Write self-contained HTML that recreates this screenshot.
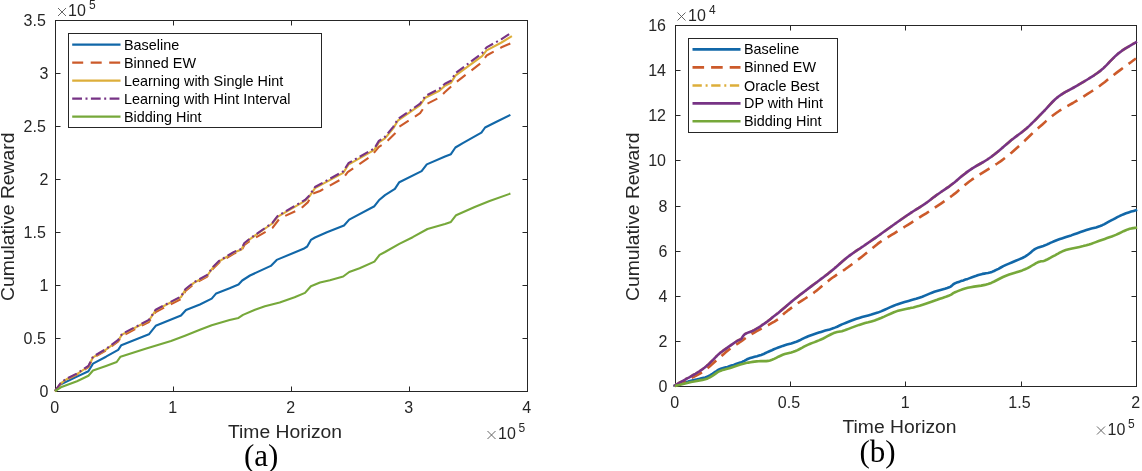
<!DOCTYPE html><html><head><meta charset="utf-8"><style>html,body{margin:0;padding:0;background:#fff;overflow:hidden}svg{display:block;will-change:transform}text{font-family:"Liberation Sans",sans-serif}</style></head><body>
<svg width="1142" height="471" viewBox="0 0 1142 471">
<rect width="1142" height="471" fill="#fff"/>
<rect x="55.5" y="20.5" width="472" height="371" fill="none" stroke="#262626" stroke-width="1"/>
<line x1="173.5" y1="391.5" x2="173.5" y2="386.5" stroke="#262626" stroke-width="1"/>
<line x1="173.5" y1="20.5" x2="173.5" y2="25.5" stroke="#262626" stroke-width="1"/>
<line x1="291.5" y1="391.5" x2="291.5" y2="386.5" stroke="#262626" stroke-width="1"/>
<line x1="291.5" y1="20.5" x2="291.5" y2="25.5" stroke="#262626" stroke-width="1"/>
<line x1="409.5" y1="391.5" x2="409.5" y2="386.5" stroke="#262626" stroke-width="1"/>
<line x1="409.5" y1="20.5" x2="409.5" y2="25.5" stroke="#262626" stroke-width="1"/>
<line x1="55.5" y1="338.5" x2="60.5" y2="338.5" stroke="#262626" stroke-width="1"/>
<line x1="527.5" y1="338.5" x2="522.5" y2="338.5" stroke="#262626" stroke-width="1"/>
<line x1="55.5" y1="285.5" x2="60.5" y2="285.5" stroke="#262626" stroke-width="1"/>
<line x1="527.5" y1="285.5" x2="522.5" y2="285.5" stroke="#262626" stroke-width="1"/>
<line x1="55.5" y1="232.5" x2="60.5" y2="232.5" stroke="#262626" stroke-width="1"/>
<line x1="527.5" y1="232.5" x2="522.5" y2="232.5" stroke="#262626" stroke-width="1"/>
<line x1="55.5" y1="179.5" x2="60.5" y2="179.5" stroke="#262626" stroke-width="1"/>
<line x1="527.5" y1="179.5" x2="522.5" y2="179.5" stroke="#262626" stroke-width="1"/>
<line x1="55.5" y1="126.5" x2="60.5" y2="126.5" stroke="#262626" stroke-width="1"/>
<line x1="527.5" y1="126.5" x2="522.5" y2="126.5" stroke="#262626" stroke-width="1"/>
<line x1="55.5" y1="73.5" x2="60.5" y2="73.5" stroke="#262626" stroke-width="1"/>
<line x1="527.5" y1="73.5" x2="522.5" y2="73.5" stroke="#262626" stroke-width="1"/>
<g fill="none" stroke-width="2.1" stroke-linejoin="round">
<path d="M55.0,391.0 L60.9,384.2 L77.0,376.6 L88.4,371.2 L93.0,363.6 L106.0,356.7 L118.2,349.8 L121.3,345.2 L148.9,334.3 L155.7,325.8 L181.0,315.5 L186.0,310.0 L199.9,304.5 L211.7,298.6 L216.2,293.4 L229.6,288.2 L238.5,284.5 L242.2,280.5 L250.0,275.5 L270.8,265.9 L276.7,259.9 L303.5,248.8 L307.2,246.5 L310.9,239.9 L315.0,237.5 L326.9,232.2 L344.0,225.5 L349.2,219.6 L374.4,206.2 L378.9,200.3 L385.0,195.1 L394.9,188.9 L399.3,182.2 L421.6,171.1 L426.8,164.4 L445.0,156.5 L450.9,154.2 L455.4,147.5 L462.8,143.1 L481.4,132.7 L485.1,127.5 L495.5,122.3 L510.4,114.9" stroke="#1167A8"/>
<path d="M55.0,391.0 L60.9,383.5 L66.2,379.8 L77.0,374.5 L88.4,367.0 L93.0,358.0 L106.0,350.5 L118.2,341.5 L122.0,336.0 L148.9,322.0 L155.7,312.0 L181.0,299.0 L185.5,291.0 L193.9,284.0 L207.3,276.5 L213.2,268.5 L219.2,262.5 L234.0,253.5 L241.5,250.5 L244.4,245.0 L250.0,240.7 L272.3,228.1 L279.7,218.4 L300.5,208.8 L308.0,202.1 L312.4,193.9 L320.0,191.0 L343.2,178.1 L347.7,172.1 L371.5,155.8 L378.9,146.9 L385.0,143.2 L395.5,133.0 L399.0,127.0 L420.1,113.2 L426.1,104.3 L439.4,97.6 L445.0,92.0 L453.9,84.0 L482.1,62.1 L486.6,55.5 L501.5,47.3 L511.9,42.8" stroke="#CC5A2A" stroke-dasharray="11 7.5"/>
<path d="M55.0,391.6 L60.9,383.3 L66.2,379.5 L77.0,374.1 L88.4,366.5 L93.0,357.3 L106.0,349.6 L118.2,340.5 L122.0,334.6 L148.9,320.5 L155.7,310.3 L181.0,297.1 L185.5,289.6 L193.9,282.9 L207.3,275.5 L213.2,267.3 L219.2,261.4 L234.0,252.5 L241.5,249.5 L244.4,243.6 L250.0,239.1 L272.3,223.5 L277.5,216.8 L305.0,200.8 L309.4,196.3 L315.0,188.1 L343.2,172.9 L348.4,164.7 L374.4,149.9 L378.9,142.4 L385.0,138.3 L393.4,128.1 L397.8,120.7 L420.1,105.1 L425.3,97.7 L439.4,90.7 L445.0,85.8 L450.9,82.9 L455.4,75.6 L482.1,56.2 L486.6,50.4 L501.5,42.5 L511.9,36.1" stroke="#DDAE3A"/>
<path d="M55.0,391.0 L60.9,382.7 L66.2,378.9 L77.0,373.5 L88.4,365.9 L93.0,356.7 L106.0,349.0 L118.2,339.9 L122.0,334.0 L148.9,319.9 L155.7,309.7 L181.0,296.5 L185.5,289.0 L193.9,282.3 L207.3,274.9 L213.2,266.7 L219.2,260.8 L234.0,251.9 L241.5,248.9 L244.4,243.0 L250.0,238.5 L272.3,222.9 L277.5,216.2 L305.0,199.9 L309.4,195.4 L315.0,187.0 L343.2,171.4 L348.4,163.2 L374.4,148.4 L378.9,140.9 L385.0,136.8 L393.4,126.6 L397.8,119.2 L420.1,103.6 L425.3,96.1 L439.4,88.7 L445.0,83.7 L450.9,80.7 L455.4,73.3 L482.1,53.2 L486.6,47.3 L501.5,39.1 L511.9,32.4" stroke="#773385" stroke-dasharray="9.8 3.5 2 3.4"/>
<path d="M55.0,391.0 L60.9,387.3 L77.0,381.2 L88.4,375.8 L93.0,370.5 L106.0,365.9 L116.7,362.0 L120.5,356.7 L145.5,348.8 L171.0,341.0 L185.0,335.7 L199.9,329.8 L211.7,325.3 L229.6,320.1 L238.5,317.9 L243.0,314.9 L255.0,309.7 L264.9,306.3 L279.7,302.5 L294.6,297.3 L305.0,292.9 L310.9,286.2 L320.0,282.5 L329.9,280.2 L343.2,276.5 L349.2,272.0 L359.6,268.3 L374.4,261.6 L379.6,254.9 L385.0,252.0 L399.3,243.9 L412.7,237.2 L427.5,229.0 L445.0,224.1 L450.9,221.9 L456.1,215.2 L474.7,207.0 L489.6,201.1 L510.4,193.6" stroke="#76A83A"/>
</g>
<text transform="translate(54.7,413) scale(1.0,1)" font-size="16" fill="#262626" text-anchor="middle">0</text>
<text transform="translate(172.7,413) scale(1.0,1)" font-size="16" fill="#262626" text-anchor="middle">1</text>
<text transform="translate(290.7,413) scale(1.0,1)" font-size="16" fill="#262626" text-anchor="middle">2</text>
<text transform="translate(408.7,413) scale(1.0,1)" font-size="16" fill="#262626" text-anchor="middle">3</text>
<text transform="translate(526.7,413) scale(1.0,1)" font-size="16" fill="#262626" text-anchor="middle">4</text>
<text transform="translate(48.3,397.0) scale(1.0,1)" font-size="16" fill="#262626" text-anchor="end">0</text>
<text transform="translate(45.8,344.0) scale(1.0,1)" font-size="16" fill="#262626" text-anchor="end">0.5</text>
<text transform="translate(48.3,291.0) scale(1.0,1)" font-size="16" fill="#262626" text-anchor="end">1</text>
<text transform="translate(45.8,238.0) scale(1.0,1)" font-size="16" fill="#262626" text-anchor="end">1.5</text>
<text transform="translate(48.3,185.0) scale(1.0,1)" font-size="16" fill="#262626" text-anchor="end">2</text>
<text transform="translate(45.8,132.0) scale(1.0,1)" font-size="16" fill="#262626" text-anchor="end">2.5</text>
<text transform="translate(48.3,79.0) scale(1.0,1)" font-size="16" fill="#262626" text-anchor="end">3</text>
<text transform="translate(45.8,26.0) scale(1.0,1)" font-size="16" fill="#262626" text-anchor="end">3.5</text>
<path d="M58,8 L66,16 M66,8 L58,16" stroke="#555" stroke-width="0.9" fill="none"/>
<text transform="translate(68,16) scale(1.0,1)" font-size="16" fill="#262626">10</text>
<text transform="translate(89,9) scale(1.0,1)" font-size="12" fill="#262626">5</text>
<path d="M487.5,431 L495.5,439 M495.5,431 L487.5,439" stroke="#555" stroke-width="0.9" fill="none"/>
<text transform="translate(498,439) scale(1.0,1)" font-size="16" fill="#262626">10</text>
<text transform="translate(518.5,432) scale(1.0,1)" font-size="12" fill="#262626">5</text>
<text transform="translate(228,438) scale(1.027,1)" font-size="18.8" fill="#262626">Time Horizon</text>
<text transform="translate(13.7,301) rotate(-90) scale(1.027,1)" font-size="18.8" fill="#262626">Cumulative Reward</text>
<text x="244" y="466" font-family="Liberation Serif" style="font-family:'Liberation Serif',serif" font-size="31" fill="#000">(a)</text>
<rect x="68.5" y="33.5" width="253" height="94" fill="#fff" stroke="#262626" stroke-width="1"/>
<line x1="72.2" y1="44.6" x2="120.5" y2="44.6" stroke="#1167A8" stroke-width="2.1" />
<text x="124" y="49.6" font-size="14.4" fill="#000">Baseline</text>
<line x1="72.2" y1="62.6" x2="120.5" y2="62.6" stroke="#CC5A2A" stroke-width="2.1" stroke-dasharray="11 7.5"/>
<text x="124" y="67.6" font-size="14.4" fill="#000">Binned EW</text>
<line x1="72.2" y1="80.6" x2="120.5" y2="80.6" stroke="#DDAE3A" stroke-width="2.1" />
<text x="124" y="85.6" font-size="14.4" fill="#000">Learning with Single Hint</text>
<line x1="72.2" y1="98.6" x2="120.5" y2="98.6" stroke="#773385" stroke-width="2.1" stroke-dasharray="9.8 3.5 2 3.4"/>
<text x="124" y="103.6" font-size="14.4" fill="#000">Learning with Hint Interval</text>
<line x1="72.2" y1="116.6" x2="120.5" y2="116.6" stroke="#76A83A" stroke-width="2.1" />
<text x="124" y="121.6" font-size="14.4" fill="#000">Bidding Hint</text>
<rect x="675.5" y="25.5" width="461" height="361" fill="none" stroke="#262626" stroke-width="1"/>
<line x1="790.5" y1="386.5" x2="790.5" y2="381.5" stroke="#262626" stroke-width="1"/>
<line x1="790.5" y1="25.5" x2="790.5" y2="30.5" stroke="#262626" stroke-width="1"/>
<line x1="905.5" y1="386.5" x2="905.5" y2="381.5" stroke="#262626" stroke-width="1"/>
<line x1="905.5" y1="25.5" x2="905.5" y2="30.5" stroke="#262626" stroke-width="1"/>
<line x1="1021.5" y1="386.5" x2="1021.5" y2="381.5" stroke="#262626" stroke-width="1"/>
<line x1="1021.5" y1="25.5" x2="1021.5" y2="30.5" stroke="#262626" stroke-width="1"/>
<line x1="675.5" y1="341.5" x2="680.5" y2="341.5" stroke="#262626" stroke-width="1"/>
<line x1="1136.5" y1="341.5" x2="1131.5" y2="341.5" stroke="#262626" stroke-width="1"/>
<line x1="675.5" y1="296.5" x2="680.5" y2="296.5" stroke="#262626" stroke-width="1"/>
<line x1="1136.5" y1="296.5" x2="1131.5" y2="296.5" stroke="#262626" stroke-width="1"/>
<line x1="675.5" y1="251.5" x2="680.5" y2="251.5" stroke="#262626" stroke-width="1"/>
<line x1="1136.5" y1="251.5" x2="1131.5" y2="251.5" stroke="#262626" stroke-width="1"/>
<line x1="675.5" y1="206.5" x2="680.5" y2="206.5" stroke="#262626" stroke-width="1"/>
<line x1="1136.5" y1="206.5" x2="1131.5" y2="206.5" stroke="#262626" stroke-width="1"/>
<line x1="675.5" y1="160.5" x2="680.5" y2="160.5" stroke="#262626" stroke-width="1"/>
<line x1="1136.5" y1="160.5" x2="1131.5" y2="160.5" stroke="#262626" stroke-width="1"/>
<line x1="675.5" y1="115.5" x2="680.5" y2="115.5" stroke="#262626" stroke-width="1"/>
<line x1="1136.5" y1="115.5" x2="1131.5" y2="115.5" stroke="#262626" stroke-width="1"/>
<line x1="675.5" y1="70.5" x2="680.5" y2="70.5" stroke="#262626" stroke-width="1"/>
<line x1="1136.5" y1="70.5" x2="1131.5" y2="70.5" stroke="#262626" stroke-width="1"/>
<g fill="none" stroke-width="2.6" stroke-linejoin="round">
<path d="M675.0,386.0 L674.9,385.9 L674.7,385.8 L674.4,385.7 L674.4,385.5 L674.8,385.2 L675.8,384.9 L677.5,384.3 L679.8,383.7 L682.5,383.0 L685.4,382.2 L688.3,381.5 L691.1,380.7 L693.9,380.1 L696.7,379.4 L699.6,378.8 L702.5,378.1 L705.2,377.4 L707.7,376.5 L709.9,375.4 L711.9,374.2 L713.8,372.9 L715.6,371.7 L717.3,370.5 L719.1,369.5 L720.8,368.8 L722.5,368.2 L724.1,367.7 L725.8,367.3 L727.5,366.9 L729.3,366.3 L731.4,365.6 L733.6,364.9 L735.9,364.1 L738.2,363.3 L740.3,362.6 L742.1,361.9 L743.5,361.3 L744.4,360.8 L745.2,360.3 L746.1,359.8 L747.0,359.3 L748.4,358.7 L750.2,358.1 L752.3,357.5 L754.6,356.8 L757.0,356.2 L759.2,355.5 L761.2,354.9 L762.9,354.3 L764.3,353.7 L765.6,353.0 L766.9,352.4 L768.4,351.7 L770.0,351.0 L771.9,350.2 L773.9,349.3 L776.1,348.4 L778.3,347.5 L780.5,346.7 L782.7,345.9 L784.8,345.2 L787.0,344.6 L789.1,344.0 L791.2,343.5 L793.4,342.8 L795.5,342.1 L797.6,341.2 L799.7,340.3 L801.9,339.2 L804.0,338.2 L806.1,337.2 L808.2,336.3 L810.3,335.5 L812.5,334.7 L814.6,334.0 L816.7,333.3 L818.9,332.6 L821.0,331.9 L823.2,331.2 L825.3,330.6 L827.5,330.0 L829.7,329.4 L831.7,328.8 L833.7,328.1 L835.5,327.4 L837.1,326.7 L838.6,326.0 L840.2,325.2 L841.9,324.4 L843.9,323.6 L846.1,322.7 L848.5,321.8 L851.0,320.8 L853.7,319.8 L856.4,318.8 L859.2,317.9 L862.1,317.0 L865.1,316.2 L868.3,315.4 L871.4,314.6 L874.6,313.6 L877.8,312.6 L880.9,311.4 L884.1,310.0 L887.2,308.6 L890.4,307.1 L893.7,305.7 L897.1,304.4 L900.7,303.2 L904.6,302.0 L908.5,300.9 L912.4,299.8 L916.1,298.8 L919.4,297.7 L922.3,296.7 L924.9,295.6 L927.3,294.6 L929.6,293.6 L931.9,292.7 L934.3,291.8 L936.9,291.0 L939.6,290.2 L942.3,289.4 L944.9,288.7 L947.2,288.0 L949.2,287.3 L950.6,286.6 L951.6,285.9 L952.2,285.3 L952.9,284.6 L953.7,284.0 L955.0,283.3 L956.7,282.6 L958.7,281.9 L960.9,281.1 L963.2,280.4 L965.5,279.6 L967.7,278.9 L969.8,278.1 L972.0,277.3 L974.2,276.5 L976.3,275.8 L978.4,275.0 L980.5,274.4 L982.4,273.9 L984.3,273.6 L986.1,273.3 L988.0,273.0 L989.9,272.6 L991.9,271.9 L994.0,271.0 L996.2,269.9 L998.5,268.8 L1000.8,267.5 L1003.3,266.2 L1006.0,264.9 L1009.0,263.6 L1012.3,262.2 L1015.7,260.8 L1019.1,259.4 L1022.3,258.0 L1025.0,256.6 L1027.2,255.2 L1029.1,253.8 L1030.7,252.5 L1032.2,251.1 L1033.7,249.9 L1035.3,248.9 L1036.9,248.1 L1038.5,247.4 L1040.1,246.9 L1041.7,246.4 L1043.3,245.9 L1045.0,245.3 L1046.7,244.6 L1048.5,243.8 L1050.3,242.9 L1052.2,242.1 L1054.1,241.3 L1056.0,240.5 L1057.9,239.8 L1059.9,239.1 L1061.8,238.5 L1063.9,237.8 L1066.1,237.1 L1068.5,236.3 L1071.2,235.4 L1074.2,234.3 L1077.4,233.2 L1080.5,232.1 L1083.6,231.0 L1086.4,230.1 L1089.0,229.3 L1091.4,228.6 L1093.7,228.0 L1096.0,227.4 L1098.1,226.7 L1100.2,226.0 L1102.2,225.2 L1104.0,224.3 L1105.8,223.3 L1107.5,222.4 L1109.3,221.4 L1111.2,220.4 L1113.2,219.4 L1115.2,218.3 L1117.3,217.2 L1119.4,216.2 L1121.5,215.1 L1123.7,214.2 L1126.0,213.3 L1128.6,212.4 L1131.2,211.6 L1133.7,210.9 L1135.7,210.3 L1137.2,209.8" stroke="#1167A8"/>
<path d="M675.0,386.0 L676.5,385.3 L678.5,384.3 L680.9,383.1 L683.5,381.8 L686.2,380.5 L688.6,379.3 L690.9,378.1 L693.3,377.0 L695.7,375.9 L698.1,374.7 L700.4,373.4 L702.6,372.1 L704.6,370.7 L706.5,369.2 L708.3,367.6 L710.1,366.0 L712.0,364.3 L714.0,362.5 L716.3,360.5 L718.8,358.4 L721.3,356.1 L723.8,353.9 L726.3,351.8 L728.5,350.0 L730.5,348.5 L732.2,347.3 L733.8,346.2 L735.5,345.1 L737.2,344.0 L739.0,342.8 L741.0,341.4 L743.1,339.9 L745.3,338.3 L747.5,336.8 L749.7,335.2 L752.0,333.8 L754.3,332.5 L756.7,331.2 L759.1,329.9 L761.4,328.7 L763.8,327.5 L766.0,326.3 L768.2,325.1 L770.3,323.9 L772.4,322.7 L774.4,321.6 L776.3,320.4 L778.0,319.3 L779.4,318.2 L780.5,317.2 L781.5,316.2 L782.5,315.1 L783.6,314.0 L785.0,312.8 L786.7,311.5 L788.4,310.1 L790.4,308.6 L792.4,307.1 L794.7,305.5 L797.0,303.8 L799.5,302.1 L802.3,300.3 L805.2,298.5 L808.1,296.6 L811.1,294.6 L814.0,292.6 L816.8,290.4 L819.7,288.1 L822.5,285.7 L825.3,283.3 L828.2,281.0 L831.0,278.8 L833.8,276.8 L836.6,274.9 L839.5,273.0 L842.3,271.2 L845.1,269.3 L847.9,267.3 L850.7,265.2 L853.6,263.0 L856.5,260.8 L859.4,258.6 L862.2,256.4 L864.9,254.3 L867.5,252.2 L870.1,250.0 L872.6,247.9 L875.1,245.9 L877.6,243.9 L880.0,242.1 L882.4,240.4 L884.9,238.9 L887.2,237.5 L889.6,236.1 L892.0,234.7 L894.3,233.3 L896.5,231.9 L898.6,230.6 L900.6,229.4 L902.8,228.0 L905.1,226.5 L907.9,224.8 L911.1,222.8 L914.6,220.6 L918.4,218.2 L922.3,215.7 L926.2,213.3 L930.0,210.8 L933.7,208.3 L937.5,205.8 L941.3,203.3 L945.0,200.8 L948.6,198.3 L952.0,195.8 L955.1,193.4 L958.0,190.9 L960.8,188.5 L963.5,186.1 L966.2,183.9 L969.0,181.7 L971.8,179.7 L974.7,177.8 L977.5,176.0 L980.3,174.2 L983.2,172.4 L986.0,170.6 L988.8,168.8 L991.6,167.1 L994.5,165.3 L997.3,163.5 L1000.1,161.6 L1002.9,159.6 L1005.7,157.4 L1008.6,155.1 L1011.5,152.7 L1014.3,150.2 L1017.1,147.7 L1019.9,145.2 L1022.6,142.7 L1025.2,140.3 L1027.8,137.8 L1030.4,135.3 L1033.1,132.7 L1036.0,130.1 L1039.1,127.3 L1042.4,124.4 L1045.8,121.4 L1049.3,118.4 L1052.8,115.6 L1056.2,113.0 L1059.5,110.7 L1062.9,108.7 L1066.2,106.8 L1069.5,104.9 L1072.9,103.0 L1076.4,100.9 L1080.0,98.7 L1083.8,96.3 L1087.6,93.9 L1091.4,91.5 L1095.1,89.1 L1098.6,86.7 L1101.8,84.3 L1104.9,82.0 L1107.8,79.6 L1110.7,77.3 L1113.7,74.9 L1116.7,72.6 L1120.1,70.1 L1123.7,67.4 L1127.4,64.7 L1130.9,62.2 L1133.8,60.0 L1135.9,58.5" stroke="#CC5A2A" stroke-dasharray="11.6 7"/>
<path d="M675.0,386.0 L675.0,385.9 L674.9,385.8 L674.8,385.7 L674.9,385.6 L675.2,385.3 L675.8,384.9 L676.8,384.3 L678.0,383.6 L679.5,382.7 L681.1,381.8 L682.9,380.8 L684.7,379.8 L686.6,378.7 L688.8,377.6 L691.0,376.3 L693.3,375.0 L695.5,373.8 L697.5,372.5 L699.4,371.3 L701.1,370.1 L702.8,369.0 L704.4,367.8 L706.0,366.5 L707.7,365.1 L709.4,363.5 L711.2,361.7 L713.0,359.9 L714.7,358.1 L716.4,356.4 L717.9,354.9 L719.2,353.7 L720.3,352.8 L721.4,352.0 L722.4,351.3 L723.6,350.4 L725.0,349.4 L726.8,348.1 L728.8,346.6 L731.0,345.1 L733.2,343.6 L735.1,342.3 L736.7,341.2 L737.9,340.5 L738.8,340.1 L739.5,339.8 L740.1,339.6 L740.7,339.4 L741.3,338.9 L741.9,338.2 L742.3,337.5 L742.7,336.7 L743.2,335.8 L743.9,335.0 L744.8,334.2 L746.0,333.5 L747.4,332.9 L749.0,332.3 L750.7,331.7 L752.4,331.0 L754.2,330.1 L756.0,329.0 L758.0,327.8 L760.0,326.6 L762.0,325.2 L764.0,323.9 L765.8,322.6 L767.4,321.5 L768.6,320.5 L769.9,319.6 L771.2,318.5 L772.9,317.1 L775.2,315.3 L778.2,312.9 L781.7,309.9 L785.6,306.7 L789.6,303.3 L793.5,300.1 L797.0,297.3 L800.1,294.8 L803.0,292.6 L805.8,290.5 L808.5,288.4 L811.2,286.4 L814.0,284.3 L816.8,282.2 L819.7,280.0 L822.5,277.9 L825.3,275.7 L828.2,273.6 L831.0,271.3 L833.8,268.9 L836.7,266.5 L839.5,264.0 L842.3,261.5 L845.2,259.1 L848.0,256.8 L850.9,254.6 L853.9,252.5 L856.9,250.4 L859.9,248.5 L862.6,246.7 L865.0,245.0 L867.0,243.6 L868.6,242.5 L870.1,241.5 L871.5,240.5 L873.1,239.4 L875.0,238.1 L877.3,236.5 L879.8,234.7 L882.5,232.8 L885.3,230.8 L888.1,228.8 L890.9,226.8 L893.7,224.8 L896.5,222.8 L899.3,220.8 L902.2,218.8 L905.1,216.8 L907.9,214.8 L910.8,212.9 L913.7,211.0 L916.7,209.1 L919.6,207.3 L922.4,205.5 L924.9,203.8 L927.2,202.2 L929.2,200.7 L931.1,199.3 L932.9,197.8 L934.9,196.4 L937.0,194.8 L939.3,193.2 L941.7,191.5 L944.2,189.8 L946.7,188.1 L949.4,186.3 L952.0,184.3 L954.7,182.2 L957.3,180.0 L960.1,177.6 L962.9,175.3 L965.9,172.9 L969.0,170.6 L972.4,168.4 L976.0,166.2 L979.8,164.0 L983.6,161.8 L987.4,159.5 L991.0,157.0 L994.6,154.3 L998.1,151.4 L1001.6,148.4 L1005.0,145.5 L1008.3,142.7 L1011.4,140.1 L1014.2,137.9 L1016.9,135.9 L1019.4,134.0 L1021.8,132.2 L1024.2,130.3 L1026.7,128.2 L1029.3,125.9 L1031.8,123.4 L1034.4,120.9 L1036.9,118.3 L1039.5,115.6 L1042.1,113.0 L1044.7,110.3 L1047.2,107.6 L1049.7,104.8 L1052.4,102.0 L1055.2,99.3 L1058.2,96.8 L1061.6,94.4 L1065.2,92.2 L1069.0,90.1 L1072.9,88.0 L1076.7,85.8 L1080.4,83.7 L1083.9,81.6 L1087.4,79.5 L1090.8,77.4 L1094.1,75.3 L1097.4,73.0 L1100.6,70.6 L1103.7,67.9 L1106.8,64.9 L1109.8,61.7 L1112.8,58.7 L1115.8,55.7 L1118.8,53.1 L1122.0,50.7 L1125.5,48.4 L1129.0,46.3 L1132.3,44.4 L1135.0,42.8 L1137.0,41.6" stroke="#DDAE3A" stroke-dasharray="9.3 3.8 2 3.6"/>
<path d="M675.0,386.0 L675.0,385.9 L674.9,385.8 L674.8,385.7 L674.9,385.6 L675.2,385.3 L675.8,384.9 L676.8,384.3 L678.0,383.6 L679.5,382.7 L681.1,381.8 L682.9,380.8 L684.7,379.8 L686.6,378.7 L688.8,377.6 L691.0,376.3 L693.3,375.0 L695.5,373.8 L697.5,372.5 L699.4,371.3 L701.1,370.1 L702.8,369.0 L704.4,367.8 L706.0,366.5 L707.7,365.1 L709.4,363.5 L711.2,361.7 L713.0,359.9 L714.7,358.1 L716.4,356.4 L717.9,354.9 L719.2,353.7 L720.3,352.8 L721.4,352.0 L722.4,351.3 L723.6,350.4 L725.0,349.4 L726.8,348.1 L728.8,346.6 L731.0,345.1 L733.2,343.6 L735.1,342.3 L736.7,341.2 L737.9,340.5 L738.8,340.1 L739.5,339.8 L740.1,339.6 L740.7,339.4 L741.3,338.9 L741.9,338.2 L742.3,337.5 L742.7,336.7 L743.2,335.8 L743.9,335.0 L744.8,334.2 L746.0,333.5 L747.4,332.9 L749.0,332.3 L750.7,331.7 L752.4,331.0 L754.2,330.1 L756.0,329.0 L758.0,327.8 L760.0,326.6 L762.0,325.2 L764.0,323.9 L765.8,322.6 L767.4,321.5 L768.6,320.5 L769.9,319.6 L771.2,318.5 L772.9,317.1 L775.2,315.3 L778.2,312.9 L781.7,309.9 L785.6,306.7 L789.6,303.3 L793.5,300.1 L797.0,297.3 L800.1,294.8 L803.0,292.6 L805.8,290.5 L808.5,288.4 L811.2,286.4 L814.0,284.3 L816.8,282.2 L819.7,280.0 L822.5,277.9 L825.3,275.7 L828.2,273.6 L831.0,271.3 L833.8,268.9 L836.7,266.5 L839.5,264.0 L842.3,261.5 L845.2,259.1 L848.0,256.8 L850.9,254.6 L853.9,252.5 L856.9,250.4 L859.9,248.5 L862.6,246.7 L865.0,245.0 L867.0,243.6 L868.6,242.5 L870.1,241.5 L871.5,240.5 L873.1,239.4 L875.0,238.1 L877.3,236.5 L879.8,234.7 L882.5,232.8 L885.3,230.8 L888.1,228.8 L890.9,226.8 L893.7,224.8 L896.5,222.8 L899.3,220.8 L902.2,218.8 L905.1,216.8 L907.9,214.8 L910.8,212.9 L913.7,211.0 L916.7,209.1 L919.6,207.3 L922.4,205.5 L924.9,203.8 L927.2,202.2 L929.2,200.7 L931.1,199.3 L932.9,197.8 L934.9,196.4 L937.0,194.8 L939.3,193.2 L941.7,191.5 L944.2,189.8 L946.7,188.1 L949.4,186.3 L952.0,184.3 L954.7,182.2 L957.3,180.0 L960.1,177.6 L962.9,175.3 L965.9,172.9 L969.0,170.6 L972.4,168.4 L976.0,166.2 L979.8,164.0 L983.6,161.8 L987.4,159.5 L991.0,157.0 L994.6,154.3 L998.1,151.4 L1001.6,148.4 L1005.0,145.5 L1008.3,142.7 L1011.4,140.1 L1014.2,137.9 L1016.9,135.9 L1019.4,134.0 L1021.8,132.2 L1024.2,130.3 L1026.7,128.2 L1029.3,125.9 L1031.8,123.4 L1034.4,120.9 L1036.9,118.3 L1039.5,115.6 L1042.1,113.0 L1044.7,110.3 L1047.2,107.6 L1049.7,104.8 L1052.4,102.0 L1055.2,99.3 L1058.2,96.8 L1061.6,94.4 L1065.2,92.2 L1069.0,90.1 L1072.9,88.0 L1076.7,85.8 L1080.4,83.7 L1083.9,81.6 L1087.4,79.5 L1090.8,77.4 L1094.1,75.3 L1097.4,73.0 L1100.6,70.6 L1103.7,67.9 L1106.8,64.9 L1109.8,61.7 L1112.8,58.7 L1115.8,55.7 L1118.8,53.1 L1122.0,50.7 L1125.5,48.4 L1129.0,46.3 L1132.3,44.4 L1135.0,42.8 L1137.0,41.6" stroke="#773385"/>
<path d="M675.0,386.0 L676.7,385.6 L679.2,385.0 L682.0,384.3 L685.1,383.5 L688.2,382.7 L691.1,382.0 L693.9,381.5 L696.8,380.9 L699.7,380.4 L702.5,379.9 L705.2,379.2 L707.7,378.4 L709.9,377.4 L711.9,376.2 L713.8,374.9 L715.6,373.6 L717.3,372.4 L719.1,371.4 L720.8,370.7 L722.4,370.1 L723.9,369.7 L725.5,369.3 L727.2,368.8 L729.3,368.2 L731.7,367.4 L734.5,366.5 L737.4,365.6 L740.4,364.6 L743.3,363.8 L745.9,363.1 L748.3,362.6 L750.5,362.2 L752.6,361.9 L754.6,361.6 L756.6,361.4 L758.6,361.2 L760.6,361.1 L762.4,361.1 L764.3,361.1 L766.2,361.1 L768.0,360.9 L770.0,360.5 L772.0,359.8 L774.1,358.9 L776.3,357.8 L778.4,356.7 L780.6,355.7 L782.7,354.8 L784.8,354.1 L787.0,353.5 L789.1,352.9 L791.2,352.4 L793.4,351.8 L795.5,351.0 L797.6,350.1 L799.7,349.0 L801.9,347.9 L804.0,346.7 L806.1,345.6 L808.2,344.6 L810.3,343.7 L812.5,342.9 L814.6,342.1 L816.7,341.2 L818.9,340.4 L821.0,339.5 L823.2,338.5 L825.3,337.3 L827.5,336.1 L829.7,335.0 L831.7,334.0 L833.7,333.1 L835.5,332.5 L837.1,332.1 L838.6,331.8 L840.2,331.5 L841.9,331.2 L843.9,330.6 L846.1,329.8 L848.5,328.9 L851.0,327.9 L853.7,326.9 L856.4,325.9 L859.2,324.9 L862.1,324.0 L865.1,323.1 L868.3,322.3 L871.4,321.4 L874.6,320.4 L877.8,319.3 L881.0,318.0 L884.2,316.6 L887.4,315.1 L890.6,313.7 L893.9,312.3 L897.1,311.1 L900.3,310.2 L903.6,309.4 L906.9,308.7 L910.1,308.1 L913.4,307.4 L916.5,306.6 L919.6,305.7 L922.7,304.7 L925.7,303.7 L928.6,302.7 L931.5,301.7 L934.3,300.7 L937.1,299.8 L939.8,298.8 L942.5,297.9 L945.0,297.1 L947.3,296.2 L949.2,295.5 L950.6,294.9 L951.6,294.3 L952.2,293.9 L952.9,293.4 L953.7,292.9 L955.0,292.3 L956.6,291.6 L958.4,290.9 L960.4,290.1 L962.6,289.3 L965.1,288.5 L967.7,287.8 L970.7,287.2 L974.0,286.6 L977.6,286.1 L981.2,285.6 L984.8,284.9 L988.1,284.0 L991.2,282.9 L994.2,281.5 L997.1,280.0 L1000.0,278.5 L1003.0,277.0 L1006.0,275.7 L1009.2,274.5 L1012.5,273.4 L1015.8,272.4 L1019.1,271.4 L1022.2,270.4 L1025.0,269.3 L1027.6,268.1 L1029.9,266.8 L1032.1,265.5 L1034.2,264.3 L1036.1,263.2 L1037.8,262.3 L1039.3,261.7 L1040.5,261.4 L1041.6,261.3 L1042.6,261.2 L1043.7,260.9 L1045.0,260.5 L1046.5,259.8 L1048.1,259.0 L1049.8,258.1 L1051.5,257.2 L1053.3,256.2 L1055.0,255.3 L1056.6,254.4 L1058.1,253.6 L1059.7,252.7 L1061.4,251.8 L1063.3,250.9 L1065.7,250.1 L1068.7,249.3 L1072.1,248.5 L1075.9,247.7 L1079.6,246.9 L1083.2,246.1 L1086.4,245.3 L1089.1,244.5 L1091.5,243.7 L1093.7,242.9 L1095.9,242.1 L1098.0,241.3 L1100.2,240.5 L1102.5,239.7 L1104.8,238.9 L1107.1,238.1 L1109.4,237.3 L1111.7,236.5 L1114.0,235.6 L1116.4,234.6 L1118.8,233.5 L1121.2,232.3 L1123.5,231.2 L1125.8,230.2 L1127.8,229.4 L1129.7,228.8 L1131.6,228.4 L1133.4,228.1 L1134.9,227.9 L1136.2,227.7 L1137.2,227.6" stroke="#76A83A"/>
</g>
<text transform="translate(674.7,408) scale(1.0,1)" font-size="16" fill="#262626" text-anchor="middle">0</text>
<text transform="translate(788.95,408) scale(1.0,1)" font-size="16" fill="#262626" text-anchor="middle">0.5</text>
<text transform="translate(905.2,408) scale(1.0,1)" font-size="16" fill="#262626" text-anchor="middle">1</text>
<text transform="translate(1019.45,408) scale(1.0,1)" font-size="16" fill="#262626" text-anchor="middle">1.5</text>
<text transform="translate(1135.7,408) scale(1.0,1)" font-size="16" fill="#262626" text-anchor="middle">2</text>
<text transform="translate(667.3,392.0) scale(1.0,1)" font-size="16" fill="#262626" text-anchor="end">0</text>
<text transform="translate(667.3,346.875) scale(1.0,1)" font-size="16" fill="#262626" text-anchor="end">2</text>
<text transform="translate(667.3,301.75) scale(1.0,1)" font-size="16" fill="#262626" text-anchor="end">4</text>
<text transform="translate(667.3,256.625) scale(1.0,1)" font-size="16" fill="#262626" text-anchor="end">6</text>
<text transform="translate(667.3,211.5) scale(1.0,1)" font-size="16" fill="#262626" text-anchor="end">8</text>
<text transform="translate(666.0,166.375) scale(1.0,1)" font-size="16" fill="#262626" text-anchor="end">10</text>
<text transform="translate(666.0,121.25) scale(1.0,1)" font-size="16" fill="#262626" text-anchor="end">12</text>
<text transform="translate(666.0,76.125) scale(1.0,1)" font-size="16" fill="#262626" text-anchor="end">14</text>
<text transform="translate(666.0,31.0) scale(1.0,1)" font-size="16" fill="#262626" text-anchor="end">16</text>
<path d="M677.5,12.5 L685.5,20.5 M685.5,12.5 L677.5,20.5" stroke="#555" stroke-width="0.9" fill="none"/>
<text transform="translate(688,21) scale(1.0,1)" font-size="16" fill="#262626">10</text>
<text transform="translate(709,14) scale(1.0,1)" font-size="12" fill="#262626">4</text>
<path d="M1097,426.5 L1105,434.5 M1105,426.5 L1097,434.5" stroke="#555" stroke-width="0.9" fill="none"/>
<text transform="translate(1107.5,435) scale(1.0,1)" font-size="16" fill="#262626">10</text>
<text transform="translate(1128,427.5) scale(1.0,1)" font-size="12" fill="#262626">5</text>
<text transform="translate(842.5,433) scale(1.027,1)" font-size="18.8" fill="#262626">Time Horizon</text>
<text transform="translate(638.6,301) rotate(-90) scale(1.027,1)" font-size="18.8" fill="#262626">Cumulative Reward</text>
<text x="859.5" y="461.5" style="font-family:'Liberation Serif',serif" font-size="31" fill="#000">(b)</text>
<rect x="688.5" y="38.5" width="149" height="94" fill="#fff" stroke="#262626" stroke-width="1"/>
<line x1="692.5" y1="49.4" x2="740.5" y2="49.4" stroke="#1167A8" stroke-width="2.6" />
<text x="744" y="54.4" font-size="14.4" fill="#000">Baseline</text>
<line x1="692.5" y1="67.4" x2="740.5" y2="67.4" stroke="#CC5A2A" stroke-width="2.6" stroke-dasharray="11.6 7"/>
<text x="744" y="72.4" font-size="14.4" fill="#000">Binned EW</text>
<line x1="692.5" y1="85.5" x2="740.5" y2="85.5" stroke="#DDAE3A" stroke-width="2.6" stroke-dasharray="9.3 3.8 2 3.6"/>
<text x="744" y="90.5" font-size="14.4" fill="#000">Oracle Best</text>
<line x1="692.5" y1="103.4" x2="740.5" y2="103.4" stroke="#773385" stroke-width="2.6" />
<text x="744" y="108.4" font-size="14.4" fill="#000">DP with Hint</text>
<line x1="692.5" y1="121.3" x2="740.5" y2="121.3" stroke="#76A83A" stroke-width="2.6" />
<text x="744" y="126.3" font-size="14.4" fill="#000">Bidding Hint</text>
</svg></body></html>
